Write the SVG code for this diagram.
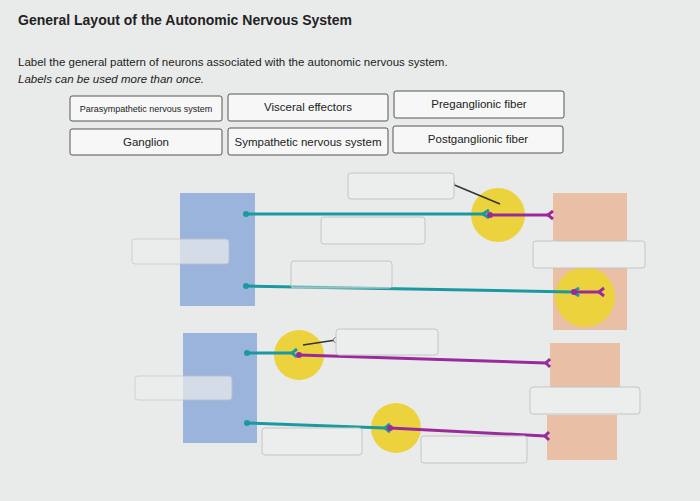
<svg xmlns="http://www.w3.org/2000/svg" width="700" height="501" viewBox="0 0 700 501">
<style>
text{font-family:"Liberation Sans",Arial,sans-serif;fill:#222}
.lbl{fill:#f6f7f6;stroke:#555;stroke-width:1}
.lbl text{}
.drop{fill:#eceeed;stroke:#c4c6c5;stroke-width:1}
.t{fill:none;stroke:#1a9aa0;stroke-width:3}
.p{fill:none;stroke:#9a2a9c;stroke-width:3}
.g{fill:#ecd23d}
.b{fill:#9ab4dc}
.e{fill:#e9bfa6}
</style>
<rect width="700" height="501" fill="#e9ebea"/>
<text x="18" y="25" font-size="14" font-weight="bold">General Layout of the Autonomic Nervous System</text>
<text x="18" y="66" font-size="11.5">Label the general pattern of neurons associated with the autonomic nervous system.</text>
<text x="18" y="83" font-size="11.5" font-style="italic">Labels can be used more than once.</text>
<g id="label-parasympathetic"><rect class="lbl" x="70" y="96" width="152" height="25" rx="2"/><text x="146" y="112" font-size="9" text-anchor="middle">Parasympathetic nervous system</text></g>
<g id="label-visceral"><rect class="lbl" x="228" y="94" width="160" height="27" rx="2"/><text x="308" y="111" font-size="11.5" text-anchor="middle">Visceral effectors</text></g>
<g id="label-preganglionic"><rect class="lbl" x="394" y="91" width="170" height="27" rx="2"/><text x="479" y="108" font-size="11.5" text-anchor="middle">Preganglionic fiber</text></g>
<g id="label-ganglion"><rect class="lbl" x="70" y="129" width="152" height="26" rx="2"/><text x="146" y="146" font-size="11.5" text-anchor="middle">Ganglion</text></g>
<g id="label-sympathetic"><rect class="lbl" x="228" y="128" width="160" height="27" rx="2"/><text x="308" y="146" font-size="11.5" text-anchor="middle">Sympathetic nervous system</text></g>
<g id="label-postganglionic"><rect class="lbl" x="393" y="126" width="170" height="27" rx="2"/><text x="478" y="143" font-size="11.5" text-anchor="middle">Postganglionic fiber</text></g>
<g id="cns1"><rect class="b" x="180" y="193" width="75" height="113"/></g>
<g id="cns2"><rect class="b" x="183" y="333" width="74" height="110"/></g>
<g id="effector1"><rect class="e" x="553" y="193" width="74" height="137"/></g>
<g id="effector2"><rect class="e" x="550" y="343" width="70" height="47"/></g>
<g id="effector3"><rect class="e" x="547" y="415" width="70" height="45"/></g>
<g id="ganglion1"><circle class="g" cx="498" cy="215" r="27"/></g>
<g id="ganglion2"><circle class="g" cx="585" cy="297" r="30"/></g>
<g id="ganglion3"><circle class="g" cx="299" cy="355" r="25"/></g>
<g id="ganglion4"><circle class="g" cx="396" cy="428" r="25"/></g>
<g id="connectors">
<path class="t" d="M246 214H483"/><circle cx="246" cy="214" r="3" fill="#1a9aa0"/><path class="t" stroke-width="2" d="M489 210L483 214L489 218"/>
<path class="p" d="M490 215H549"/><circle cx="490" cy="215" r="3" fill="#9a2a9c"/><path class="p" stroke-width="2" d="M553 211L548 215L553 219"/>
<path class="t" d="M246 286L573 292"/><circle cx="246" cy="286" r="3" fill="#1a9aa0"/><path class="t" stroke-width="2" d="M579 288L573 292L579 296"/>
<path class="p" d="M574 292H600"/><circle cx="574" cy="292" r="3" fill="#9a2a9c"/><path class="p" stroke-width="2" d="M604 288L599 292L604 296"/>
<path class="t" d="M247 353H292"/><circle cx="247" cy="353" r="3" fill="#1a9aa0"/><path class="t" stroke-width="2" d="M297 349L292 353L297 357"/>
<path class="p" d="M299 355L546 363"/><circle cx="299" cy="355" r="3" fill="#9a2a9c"/><path class="p" stroke-width="2" d="M550 359L546 363L550 367"/>
<path class="t" d="M247 423L385 428"/><circle cx="247" cy="423" r="3" fill="#1a9aa0"/><path class="t" stroke-width="2" d="M390 424L385 428L390 432"/>
<path class="p" d="M390 428L545 436"/><circle cx="390" cy="428" r="3" fill="#9a2a9c"/><path class="p" stroke-width="2" d="M549 432L545 436L549 440"/>
<path d="M452 184L500 204" stroke="#333" stroke-width="1.5"/><circle cx="452" cy="184" r="2.5" fill="#fff" stroke="#777"/>
<path d="M336 340L303 345" stroke="#333" stroke-width="1.5"/><circle cx="336" cy="340" r="2.5" fill="#fff" stroke="#777"/>
</g>
<g id="drops">
<rect class="drop" x="348" y="173" width="106" height="26" rx="3"/>
<rect class="drop" x="321" y="217" width="104" height="27" rx="3"/>
<rect class="drop" x="291" y="261" width="101" height="27" rx="3" fill-opacity="0.4"/>
<rect class="drop" x="132" y="239" width="97" height="25" rx="3" opacity="0.7"/>
<rect class="drop" x="533" y="241" width="112" height="27" rx="3"/>
<rect class="drop" x="336" y="329" width="102" height="26" rx="3"/>
<rect class="drop" x="135" y="376" width="97" height="24" rx="3" opacity="0.7"/>
<rect class="drop" x="530" y="387" width="110" height="27" rx="3"/>
<rect class="drop" x="262" y="428" width="100" height="27" rx="3"/>
<rect class="drop" x="421" y="436" width="106" height="27" rx="3"/>
</g>
</svg>
